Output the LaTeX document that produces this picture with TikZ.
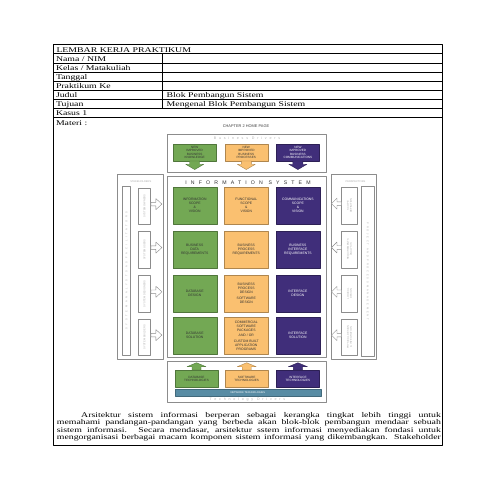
\documentclass[tikz,border=0pt]{standalone}
\usepackage{fontspec}
\setmainfont{Liberation Serif}
\setsansfont{Liberation Sans}
\usepackage{graphicx}
\usetikzlibrary{positioning}
\definecolor{grn}{RGB}{115,168,84}
\definecolor{org}{RGB}{250,192,112}
\definecolor{pur}{RGB}{64,46,122}
\definecolor{stl}{RGB}{88,140,164}
\definecolor{frm}{RGB}{140,140,140}
\newcommand\sq[1]{\scalebox{1}[.74]{#1}}
\newcommand\tinysf{\sffamily\fontsize{3.4}{4.0}\selectfont}
\newcommand\spc[1]{\addfontfeature{LetterSpace=#1}}
\tikzset{
  tline/.style={line width=.7pt},
  tcell/.style={anchor=base west, inner sep=0, font=\fontsize{9.8}{10}\selectfont},
  frame/.style={draw=frm, line width=.5pt, inner sep=0},
  panel/.style={draw=frm, line width=.45pt, fill=white, inner sep=0},
  cellbox/.style={minimum width=44pt, minimum height=37pt, inner sep=0, align=center, font=\tinysf, line width=.3pt},
  drvbox/.style={minimum width=43pt, minimum height=17pt, inner sep=0, align=center, font=\sffamily\fontsize{3.1}{3.5}\selectfont, line width=.3pt},
  grfill/.style={fill=grn, draw=grn!70!black, text=black!80},
  orfill/.style={fill=org, draw=org!70!black, text=black!80},
  pufill/.style={fill=pur, draw=pur!70!black, text=white},
  arrwhite/.style={fill=white, draw=frm, line width=.4pt},
  drvlbl/.style={inner sep=0, text=gray!60, font=\sffamily\fontsize{3.6}{4}\selectfont\spc{78}},
  boxtxt/.style={inner sep=0, text=gray!65, align=center, font=\sffamily\fontsize{2.6}{3.1}\selectfont},
  dnarr/.pic={\filldraw (-5,0) -- (5,0) -- (5,3.3) -- (9,3.3) -- (0,8.6) -- (-9,3.3) -- (-5,3.3) -- cycle;},
  uparr/.pic={\filldraw (-4.5,0) -- (4.5,0) -- (4.5,-3.3) -- (9.5,-3.3) -- (0,-7.3) -- (-9.5,-3.3) -- (-4.5,-3.3) -- cycle;},
  rtarr/.pic={\filldraw (0,-1.8) -- (5,-1.8) -- (5,-5.5) -- (11,0) -- (5,5.5) -- (5,1.8) -- (0,1.8) -- cycle;},
  ltarr/.pic={\filldraw (0,-1.8) -- (-4.5,-1.8) -- (-4.5,-5.5) -- (-10,0) -- (-4.5,5.5) -- (-4.5,1.8) -- (0,1.8) -- cycle;}
}
\begin{document}
\begin{tikzpicture}[x=1pt,y=-1pt,line join=round]
\useasboundingbox (0,0) rectangle (495,495);
\fill[white] (0,0) rectangle (495,495);
% worksheet table
\draw[tline] (53,44.7) rectangle (442,445.7);
\foreach \r in {1,...,8}
  \draw[tline] (53,{44.7+9.08*\r}) -- (442,{44.7+9.08*\r});
\draw[tline] (162,53.8) -- (162,108.3);
\node[tcell] (t-head) at (56.3,52.4) {\sq{LEMBAR KERJA PRAKTIKUM}};
\node[tcell] (t-nama) at (55.8,61.4) {\sq{Nama / NIM}};
\node[tcell] (t-kelas) at (55.8,70.5) {\sq{Kelas / Matakuliah}};
\node[tcell] (t-tgl) at (55.8,79.6) {\sq{Tanggal}};
\node[tcell] (t-prak) at (55.8,88.7) {\sq{Praktikum Ke}};
\node[tcell] (t-judul) at (55.8,97.7) {\sq{Judul}};
\node[tcell] (t-tujuan) at (55.8,106.8) {\sq{Tujuan}};
\node[tcell] (t-kasus) at (55.8,115.9) {\sq{Kasus 1}};
\node[tcell] (t-materi) at (55.8,125.0) {\sq{Materi :}};
\node[tcell] (v-judul) at (166.5,97.7) {\sq{Blok Pembangun Sistem}};
\node[tcell] (v-tujuan) at (166.5,106.8) {\sq{Mengenal Blok Pembangun Sistem}};
% building blocks figure
\node[inner sep=0, text=black!75, font=\sffamily\fontsize{3.9}{4}\selectfont] (home) at (246,126) {CHAPTER 2 HOME PAGE};
\node[frame, minimum width=158.7pt, minimum height=38.7pt] (bd) at (246.65,153.35) {};
\node[drvlbl] (bd-lbl) at (247,138.3) {Business Drivers};
\node[drvbox, grfill] (bk) at (194.7,152.3) {NEW\\IMPROVED\\BUSINESS\\KNOWLEDGE};
\node[drvbox, orfill] (bp) at (246.3,152.3) {NEW\\IMPROVED\\BUSINESS\\PROCESSES};
\node[drvbox, pufill] (bc) at (297.9,152.3) {NEW\\IMPROVED\\BUSINESS\\COMMUNICATIONS};
\pic[grfill] at (bk.south) {dnarr};
\pic[orfill] at (bp.south) {dnarr};
\pic[pufill] at (bc.south) {dnarr};
% information system
\node[frame, minimum width=158.7pt, minimum height=181.3pt] (is) at (246.65,266.65) {};
\node[inner sep=0, text=black!80, font=\sffamily\fontsize{5.2}{6}\selectfont\spc{80}] (is-lbl) at (248,182.7) {INFORMATION SYSTEM};
\node[cellbox, grfill] (c11) at (194.7,205.6) {INFORMATION\\SCOPE\\\&\\VISION};
\node[cellbox, orfill] (c12) at (246.3,205.6) {FUNCTIONAL\\SCOPE\\\&\\VISION};
\node[cellbox, pufill] (c13) at (297.9,205.6) {COMMUNICATIONS\\SCOPE\\\&\\VISION};
\node[cellbox, grfill] (c21) at (194.7,250) {BUSINESS\\DATA\\REQUIREMENTS};
\node[cellbox, orfill] (c22) at (246.3,250) {BUSINESS\\PROCESS\\REQUIREMENTS};
\node[cellbox, pufill] (c23) at (297.9,250) {BUSINESS\\INTERFACE\\REQUIREMENTS};
\node[cellbox, grfill] (c31) at (194.7,293.6) {DATABASE\\DESIGN};
\node[cellbox, orfill] (c32) at (246.3,293.6) {BUSINESS\\PROCESS\\DESIGN\\[2pt]SOFTWARE\\DESIGN};
\node[cellbox, pufill] (c33) at (297.9,293.6) {INTERFACE\\DESIGN};
\node[cellbox, grfill] (c41) at (194.7,335.4) {DATABASE\\SOLUTION};
\node[cellbox, orfill] (c42) at (246.3,335.4) {COMMERCIAL\\SOFTWARE\\PACKAGES\\[1.5pt]AND / OR\\[1.5pt]CUSTOM BUILT\\APPLICATION\\PROGRAMS};
\node[cellbox, pufill] (c43) at (297.9,335.4) {INTERFACE\\SOLUTION};
% technology drivers
\node[frame, minimum width=158.7pt, minimum height=40.6pt] (td) at (246.65,382) {};
\node[drvbox, grfill] (tk) at (196.5,378.7) {DATABASE\\TECHNOLOGIES};
\node[drvbox, orfill] (tp) at (246.7,378.7) {SOFTWARE\\TECHNOLOGIES};
\node[drvbox, pufill] (tc) at (297.9,378.7) {INTERFACE\\TECHNOLOGIES};
\pic[grfill] at (tk.north) {uparr};
\pic[orfill] at (tp.north) {uparr};
\pic[pufill] at (tc.north) {uparr};
\node[fill=stl, draw=stl!75!black, line width=.3pt, minimum width=145.7pt, minimum height=6.7pt, inner sep=0, text=white, font=\sffamily\fontsize{2.6}{3}\selectfont] (tn) at (247.85,392.65) {NETWORK TECHNOLOGIES};
\node[drvlbl] (td-lbl) at (247.5,399.3) {Technology Drivers};
% left panel
\node[panel, minimum width=46pt, minimum height=185.3pt] (lp) at (140.3,266.65) {};
\node[boxtxt] (lp-t) at (140.8,181.6) {STAKEHOLDERS};
\node[panel, minimum width=8.4pt, minimum height=169pt] (lbar) at (126.5,270.5) {};
\node[boxtxt, rotate=90, font=\sffamily\fontsize{2.6}{3}\selectfont\spc{100}] (lbar-t) at (lbar) {SYSTEM ANALYSTS AS FACILITATORS};
\foreach \i/\y/\t in {1/206.1/SYSTEM OWNERS, 2/249.6/SYSTEM USERS, 3/293.8/SYSTEM DESIGNERS, 4/337.1/SYSTEM BUILDERS}{
  \node[panel, minimum width=12.4pt, minimum height=36.5pt] (lb\i) at (144.5,\y) {};
  \node[boxtxt, rotate=90] (lt\i) at (lb\i) {\t};
  \pic[arrwhite] at ([yshift=2pt]lb\i.east) {rtarr};
}
% right panel
\node[panel, minimum width=45.7pt, minimum height=185.3pt] (rp) at (353.85,266.65) {};
\node[boxtxt] (rp-t) at (355.5,181.6) {PERSPECTIVES};
\node[panel, minimum width=12.3pt, minimum height=170.7pt] (rbar) at (367.85,271.35) {};
\node[boxtxt, rotate=-90, font=\sffamily\fontsize{2.6}{3}\selectfont\spc{68}] (rbar-t) at (rbar) {PROJECT AND PROCESS MANAGEMENT};
\foreach \i/\y/\t in {1/205.6/{SCOPE\\DEFINITION}, 2/249.5/{REQUIREMENTS\\ANALYSIS}, 3/293.8/{LOGICAL\\DESIGN}, 4/337.1/{PHYSICAL DESIGN\\\& INTEGRATION}}{
  \node[panel, minimum width=15.6pt, minimum height=36.5pt] (rb\i) at (349.5,\y) {};
  \node[boxtxt, rotate=90] (rt\i) at (rb\i) {\t};
  \pic[arrwhite] at ([yshift=2pt]rb\i.west) {ltarr};
}
% paragraph
\node[anchor=base west, inner sep=0] (para) at (56.7,417.4) {\sq{\parbox[t]{384pt}{\fontsize{9.8}{9.93}\selectfont
\makebox[384pt][s]{\hspace*{24.3pt}Arsitektur sistem informasi berperan sebagai kerangka tingkat lebih tinggi untuk}\\
\makebox[384pt][s]{memahami pandangan-pandangan yang berbeda akan blok-blok pembangun mendaar sebuah}\\
\makebox[384pt][s]{sistem informasi. Secara mendasar, arsitektur sstem informasi menyediakan fondasi untuk}\\
\makebox[384pt][s]{mengorganisasi berbagai macam komponen sistem informasi yang dikembangkan. Stakeholder}}}};
\end{tikzpicture}
\end{document}
